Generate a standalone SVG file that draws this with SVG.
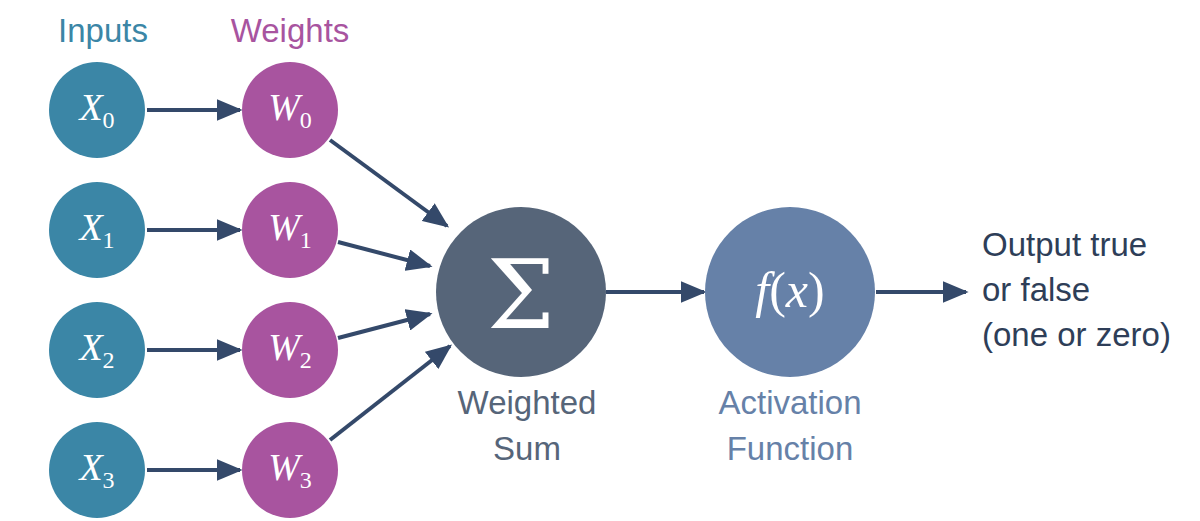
<svg xmlns="http://www.w3.org/2000/svg" width="1200" height="521" viewBox="0 0 1200 521">
<style>
.in{fill:#3b86a6}.w{fill:#a8549f}
.m{font-family:"Liberation Serif",serif;font-style:italic;fill:#fff;font-size:38px;text-anchor:middle}
.sub{font-style:normal;font-size:24px}
.lab{font-family:"Liberation Sans",Arial,sans-serif;font-size:33px;text-anchor:middle}
</style>
<defs>
<marker id="b" viewBox="0 0 10 10" refX="9" refY="5" markerWidth="26" markerHeight="22" markerUnits="userSpaceOnUse" orient="auto" preserveAspectRatio="none"><path d="M0,0L10,5L0,10z" fill="#34496a"/></marker></defs>
<text class="lab" x="103" y="42" fill="#3b86a6">Inputs</text>
<text class="lab" x="290" y="42" fill="#a8549f">Weights</text>
<g id="connectors" stroke="#34496a" stroke-width="4" fill="none">
<path d="M147,110H240" marker-end="url(#b)"/>
<path d="M147,230H240" marker-end="url(#b)"/>
<path d="M147,350H240" marker-end="url(#b)"/>
<path d="M147,470H240" marker-end="url(#b)"/>
<path d="M330,140L447,226" marker-end="url(#b)"/>
<path d="M338,242L430,266" marker-end="url(#b)"/>
<path d="M338,338L430,314" marker-end="url(#b)"/>
<path d="M330,440L450,346" marker-end="url(#b)"/>
<path d="M606,292H704" marker-end="url(#b)"/>
<path d="M876,292H966" marker-end="url(#b)"/>
</g>
<g id="x0"><circle class="in" cx="97" cy="110" r="48"/><text class="m" x="97" y="120">X<tspan class="sub" dy="8">0</tspan></text></g>
<g id="x1"><circle class="in" cx="97" cy="230" r="48"/><text class="m" x="97" y="240">X<tspan class="sub" dy="8">1</tspan></text></g>
<g id="x2"><circle class="in" cx="97" cy="350" r="48"/><text class="m" x="97" y="360">X<tspan class="sub" dy="8">2</tspan></text></g>
<g id="x3"><circle class="in" cx="97" cy="470" r="48"/><text class="m" x="97" y="480">X<tspan class="sub" dy="8">3</tspan></text></g>
<g id="w0"><circle class="w" cx="290" cy="110" r="48"/><text class="m" x="290" y="120">W<tspan class="sub" dy="8">0</tspan></text></g>
<g id="w1"><circle class="w" cx="290" cy="230" r="48"/><text class="m" x="290" y="240">W<tspan class="sub" dy="8">1</tspan></text></g>
<g id="w2"><circle class="w" cx="290" cy="350" r="48"/><text class="m" x="290" y="360">W<tspan class="sub" dy="8">2</tspan></text></g>
<g id="w3"><circle class="w" cx="290" cy="470" r="48"/><text class="m" x="290" y="480">W<tspan class="sub" dy="8">3</tspan></text></g>
<g id="sum"><circle cx="521" cy="292" r="85" fill="#566579"/><text x="521" y="328" font-family="DejaVu Serif,serif" font-size="96" fill="#fff" text-anchor="middle">Σ</text>
<text class="lab" x="527" y="414" fill="#566579">Weighted</text><text class="lab" x="527" y="460" fill="#566579">Sum</text></g>
<g id="act"><circle cx="790" cy="292" r="85" fill="#6681a8"/><text class="m" x="790" y="307" style="font-size:50px">f<tspan style="font-style:normal">(</tspan>x<tspan style="font-style:normal">)</tspan></text>
<text class="lab" x="790" y="414" fill="#6681a8">Activation</text><text class="lab" x="790" y="460" fill="#6681a8">Function</text></g>
<g id="out" font-family="Liberation Sans,Arial,sans-serif" font-size="33" fill="#2e3e58">
<text x="982" y="256">Output true</text><text x="982" y="301">or false</text><text x="982" y="346">(one or zero)</text></g>
</svg>
